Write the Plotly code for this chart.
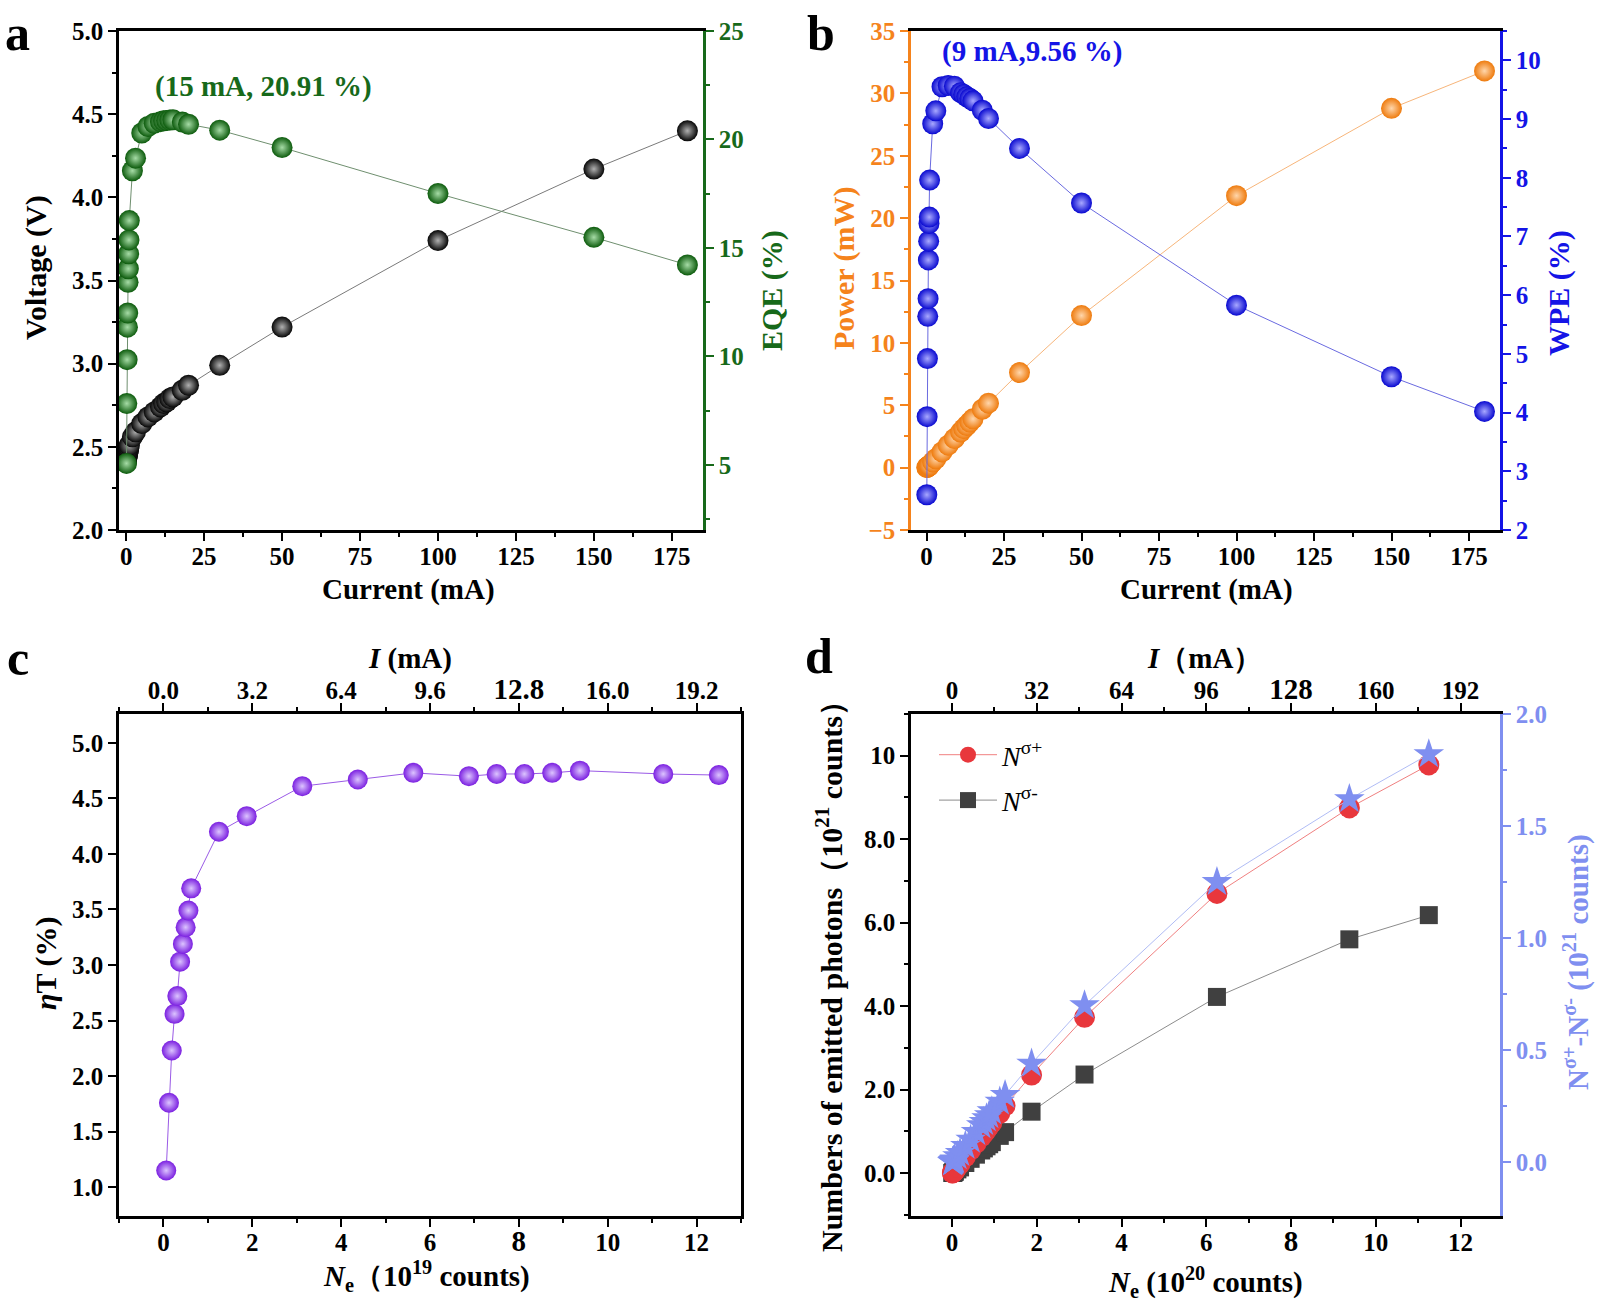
import plotly.graph_objects as go

# ---------------- data ----------------
current_mA = [0.1, 0.2, 0.3, 0.4, 0.5, 0.6, 0.7, 0.8, 0.9, 1.0, 2, 3, 5, 7, 9, 11, 12, 13, 14, 15, 18, 20, 30, 50, 100, 150, 180]
voltage_V = [2.41, 2.43, 2.44, 2.45, 2.46, 2.47, 2.48, 2.49, 2.50, 2.51, 2.56, 2.59, 2.64, 2.68, 2.71, 2.74, 2.76, 2.77, 2.79, 2.80, 2.84, 2.87, 2.99, 3.22, 3.74, 4.17, 4.40]
eqe_pct = [5.07, 7.83, 9.85, 11.35, 12.0, 13.42, 14.04, 14.73, 15.37, 16.26, 18.56, 19.14, 20.3, 20.6, 20.75, 20.82, 20.86, 20.88, 20.9, 20.91, 20.8, 20.7, 20.43, 19.63, 17.51, 15.49, 14.22]
power_mW = [0.006, 0.019, 0.036, 0.055, 0.073, 0.098, 0.12, 0.144, 0.165, 0.20, 0.457, 0.71, 1.26, 1.80, 2.33, 2.85, 3.12, 3.38, 3.65, 3.91, 4.68, 5.17, 7.62, 12.19, 21.8, 28.8, 31.8]
wpe_pct = [2.60, 3.93, 4.92, 5.64, 5.94, 6.60, 6.92, 7.22, 7.33, 7.96, 8.92, 9.14, 9.55, 9.57, 9.56, 9.45, 9.42, 9.38, 9.35, 9.31, 9.15, 9.01, 8.50, 7.57, 5.83, 4.61, 4.02]

ne19_c = [0.0625, 0.125, 0.1875, 0.25, 0.3125, 0.375, 0.4375, 0.5, 0.5625, 0.625, 1.25, 1.875, 3.125, 4.375, 5.625, 6.875, 7.5, 8.125, 8.75, 9.375, 11.25, 12.5]
eta_T_pct = [1.15, 1.76, 2.23, 2.56, 2.72, 3.03, 3.19, 3.34, 3.49, 3.69, 4.20, 4.34, 4.61, 4.67, 4.73, 4.70, 4.72, 4.72, 4.73, 4.75, 4.72, 4.71]

ne20_d = [0.00625, 0.0125, 0.01875, 0.025, 0.03125, 0.0375, 0.04375, 0.05, 0.05625, 0.0625, 0.125, 0.1875, 0.3125, 0.4375, 0.5625, 0.6875, 0.75, 0.8125, 0.875, 0.9375, 1.125, 1.25, 1.875, 3.125, 6.25, 9.375, 11.25]
n_sigma_plus = [0.002, 0.006, 0.011, 0.017, 0.022, 0.030, 0.037, 0.044, 0.050, 0.061, 0.14, 0.22, 0.39, 0.55, 0.71, 0.87, 0.95, 1.03, 1.12, 1.20, 1.43, 1.61, 2.35, 3.73, 6.70, 8.75, 9.78]
n_sigma_minus = [0.001, 0.004, 0.007, 0.010, 0.014, 0.019, 0.023, 0.027, 0.031, 0.038, 0.087, 0.135, 0.24, 0.34, 0.44, 0.54, 0.59, 0.64, 0.69, 0.74, 0.89, 0.98, 1.47, 2.36, 4.22, 5.60, 6.18]
n_diff = [0.000, 0.001, 0.002, 0.003, 0.004, 0.006, 0.007, 0.008, 0.010, 0.012, 0.027, 0.041, 0.073, 0.10, 0.135, 0.165, 0.18, 0.196, 0.21, 0.227, 0.27, 0.30, 0.44, 0.70, 1.25, 1.62, 1.82]

bottom_c_ticks = [0, 2, 4, 6, 8, 10, 12]
top_c_ticks = [0.0, 3.2, 6.4, 9.6, 12.8, 16.0, 19.2]
bottom_d_ticks = [0, 2, 4, 6, 8, 10, 12]
top_d_ticks = [0, 32, 64, 96, 128, 160, 192]
left_d_ticks = [0, 2, 4, 6, 8, 10]
left_d_text = ["0.0", "2.0", "4.0", "6.0", "8.0", "10"]

# ---------------- style ----------------
FONT = "Liberation Serif"
W, H = 1600, 1306
GREEN = "#17691a"
ORANGE = "#f5831c"
BLUE = "#1414e6"
RED = "#e8373c"
GRAY = "#404040"
LBLUE = "#7f8ff0"
TICK_SIZE = 25
HT = 29   # horizontal title size
VT = 30   # vertical title size

def px_x(p):
    return p / W

def px_y(p):
    return 1 - p / H

def big(label, on):
    # the source figure draws a few tick labels slightly larger
    return f'<span style="font-size:29px">{label}</span>' if on else label

dom_a_x = [px_x(119), px_x(703)]
dom_b_x = [px_x(911), px_x(1500)]
dom_c_x = [px_x(119), px_x(741)]
dom_d_x = [px_x(911), px_x(1500)]
dom_top_y = [px_y(530), px_y(31)]
dom_bot_y = [px_y(1216), px_y(714)]

def tfont(color="black", size=TICK_SIZE):
    return dict(family=FONT, size=size, color=color, weight="bold")

def axis(color="black", **kw):
    d = dict(
        showgrid=False, zeroline=False, showline=True, linecolor=color, linewidth=2.5,
        ticks="outside", ticklen=8, tickwidth=2, tickcolor=color,
        tickfont=tfont(color), automargin=False,
    )
    d.update(kw)
    return d

def xaxis_(**kw):
    return axis(ticklabelstandoff=-6, **kw)

def minor(dt, color="black"):
    return dict(ticks="outside", ticklen=4, tickwidth=2, tickcolor=color, dtick=dt)

fig = go.Figure()

# ---- panel a ----
fig.add_trace(go.Scatter(x=current_mA, y=voltage_V, mode="lines+markers", xaxis="x", yaxis="y",
                         line=dict(color="#7a7a7a", width=1),
                         marker=dict(size=21, color="#050505", gradient=dict(type="radial", color="#b0b0b0")),
                         showlegend=False))
fig.add_trace(go.Scatter(x=current_mA, y=eqe_pct, mode="lines+markers", xaxis="x", yaxis="y2",
                         line=dict(color="#6f8f6f", width=1),
                         marker=dict(size=21, color="#0b5a0b", gradient=dict(type="radial", color="#a6dca6")),
                         showlegend=False))
# ---- panel b ----
fig.add_trace(go.Scatter(x=current_mA, y=power_mW, mode="lines+markers", xaxis="x2", yaxis="y3",
                         line=dict(color="#f7b57a", width=1),
                         marker=dict(size=21, color="#ee7a0c", gradient=dict(type="radial", color="#ffd6ab")),
                         showlegend=False))
fig.add_trace(go.Scatter(x=current_mA, y=wpe_pct, mode="lines+markers", xaxis="x2", yaxis="y4",
                         line=dict(color="#6a6ae0", width=1),
                         marker=dict(size=21, color="#0808d0", gradient=dict(type="radial", color="#a8a8ff")),
                         showlegend=False))
# ---- panel c ----
fig.add_trace(go.Scatter(x=ne19_c, y=eta_T_pct, mode="lines+markers", xaxis="x3", yaxis="y5",
                         line=dict(color="#9a5ae6", width=1),
                         marker=dict(size=20, color="#7a1ee0", gradient=dict(type="radial", color="#dcc4ff")),
                         showlegend=False))
fig.add_trace(go.Scatter(x=[], y=[], xaxis="x4", yaxis="y5", showlegend=False))
# ---- panel d ----
fig.add_trace(go.Scatter(x=ne20_d, y=n_sigma_minus, mode="lines+markers", xaxis="x5", yaxis="y6",
                         line=dict(color="#8c8c8c", width=1),
                         marker=dict(size=18, symbol="square", color=GRAY),
                         name="<i>N</i><sup>σ-</sup>", legendrank=2, legendgroup="m"))
fig.add_trace(go.Scatter(x=ne20_d, y=n_sigma_plus, mode="lines+markers", xaxis="x5", yaxis="y6",
                         line=dict(color="#f08080", width=1),
                         marker=dict(size=21, symbol="circle", color=RED),
                         name="<i>N</i><sup>σ+</sup>", legendrank=1, legendgroup="p"))
fig.add_trace(go.Scatter(x=ne20_d, y=n_diff, mode="lines+markers", xaxis="x5", yaxis="y7",
                         line=dict(color="#b0bcf5", width=1),
                         marker=dict(size=23, symbol="star", color=LBLUE),
                         showlegend=False))
fig.add_trace(go.Scatter(x=[], y=[], xaxis="x6", yaxis="y6", showlegend=False))

fig.update_layout(
    width=W, height=H, margin=dict(l=0, r=0, t=0, b=0, autoexpand=False),
    paper_bgcolor="white", plot_bgcolor="white",
    font=dict(family=FONT),
    # panel a
    xaxis=xaxis_(domain=dom_a_x, anchor="y", range=[-2.3, 185], dtick=25, tick0=0, mirror=True,
                 minor=minor(12.5)),
    yaxis=axis(domain=dom_top_y, anchor="x", range=[2.0, 5.0], dtick=0.5, tickformat=".1f",
               minor=minor(0.25)),
    yaxis2=axis(color=GREEN, overlaying="y", side="right", anchor="x", range=[2, 25], tick0=0, dtick=5,
                minor=minor(2.5, GREEN)),
    # panel b
    xaxis2=xaxis_(domain=dom_b_x, anchor="y3", range=[-5, 185], dtick=25, tick0=0, mirror=True,
                  minor=minor(12.5)),
    yaxis3=axis(color=ORANGE, domain=dom_top_y, anchor="x2", range=[-5, 35], dtick=5,
                minor=minor(2.5, ORANGE)),
    yaxis4=axis(color=BLUE, overlaying="y3", side="right", anchor="x2", range=[2, 10.5], dtick=1,
                minor=minor(0.5, BLUE)),
    # panel c
    xaxis3=xaxis_(domain=dom_c_x, anchor="y5", range=[-1, 13], tickvals=bottom_c_ticks,
                  ticktext=[big(str(v), v == 8) for v in bottom_c_ticks], minor=minor(1)),
    xaxis4=xaxis_(overlaying="x3", side="top", anchor="y5", range=[-1.6, 20.8],
                  tickvals=top_c_ticks, ticktext=[big(f"{v:.1f}", v == 12.8) for v in top_c_ticks],
                  minor=minor(1.6)),
    yaxis5=axis(domain=dom_bot_y, anchor="x3", range=[0.74, 5.26], dtick=0.5, tick0=0, tickformat=".1f",
                mirror=True),
    # panel d
    xaxis5=xaxis_(domain=dom_d_x, anchor="y6", range=[-0.97, 12.93], tickvals=bottom_d_ticks,
                  ticktext=[big(str(v), v == 8) for v in bottom_d_ticks], minor=minor(1)),
    xaxis6=xaxis_(overlaying="x5", side="top", anchor="y6", range=[-15.5, 206.9],
                  tickvals=top_d_ticks, ticktext=[big(str(v), v == 128) for v in top_d_ticks],
                  minor=minor(16)),
    yaxis6=axis(domain=dom_bot_y, anchor="x5", range=[-1.03, 11.0],
                tickvals=left_d_ticks, ticktext=left_d_text, minor=minor(1)),
    yaxis7=axis(color=LBLUE, overlaying="y6", side="right", anchor="x5", range=[-0.24, 2.0],
                dtick=0.5, tick0=0, tickformat=".1f", minor=minor(0.25, LBLUE)),
    legend=dict(x=px_x(934), y=px_y(730), xanchor="left", yanchor="top",
                bgcolor="rgba(0,0,0,0)", font=dict(family=FONT, size=28, color="black"),
                traceorder="grouped", tracegroupgap=6, itemwidth=58),
)

annos = [
    # axis titles
    dict(text="Current (mA)", x=408, y=589, font=tfont("black", HT)),
    dict(text="Voltage (V)", x=36, y=268, font=tfont("black", VT), textangle=-90),
    dict(text="EQE (%)", x=772, y=291, font=tfont(GREEN, VT), textangle=-90),
    dict(text="Current (mA)", x=1206, y=589, font=tfont("black", HT)),
    dict(text="Power (mW)", x=844, y=268, font=tfont(ORANGE, VT), textangle=-90),
    dict(text="WPE (%)", x=1559, y=293, font=tfont(BLUE, VT), textangle=-90),
    dict(text="<i>I</i> (mA)", x=410, y=658, font=tfont("black", HT)),
    dict(text="<i>η</i>T (%)", x=46, y=964, font=tfont("black", VT), textangle=-90),
    dict(text="<i>N</i><sub>e</sub>（10<sup>19</sup> counts)", x=427, y=1276, font=tfont("black", HT)),
    dict(text="<i>I</i>（mA）", x=1204, y=658, font=tfont("black", HT)),
    dict(text="Numbers of emitted photons（10<sup>21</sup> counts）", x=829, y=969,
         font=tfont("black", VT), textangle=-90),
    dict(text="N<sup>σ+</sup>-N<sup>σ-</sup> (10<sup>21</sup> counts)", x=1576, y=962,
         font=tfont(LBLUE, 29), textangle=-90),
    dict(text="<i>N</i><sub>e</sub> (10<sup>20</sup> counts)", x=1205, y=1282, font=tfont("black", HT)),
    # data callouts
    dict(text="(15 mA, 20.91 %)", x=263, y=86, font=tfont(GREEN, 29)),
    dict(text="(9 mA,9.56 %)", x=1032, y=51, font=tfont(BLUE, 29)),
    # panel letters
    dict(text="a", x=17, y=33, font=tfont("black", 50)),
    dict(text="b", x=821, y=33, font=tfont("black", 50)),
    dict(text="c", x=18, y=658, font=tfont("black", 50)),
    dict(text="d", x=819, y=656, font=tfont("black", 50)),
]
for a in annos:
    a = dict(a)
    a["x"] = px_x(a["x"])
    a["y"] = px_y(a["y"])
    fig.add_annotation(xref="paper", yref="paper", showarrow=False, xanchor="center", yanchor="middle", **a)

fig.write_html("out.html")
